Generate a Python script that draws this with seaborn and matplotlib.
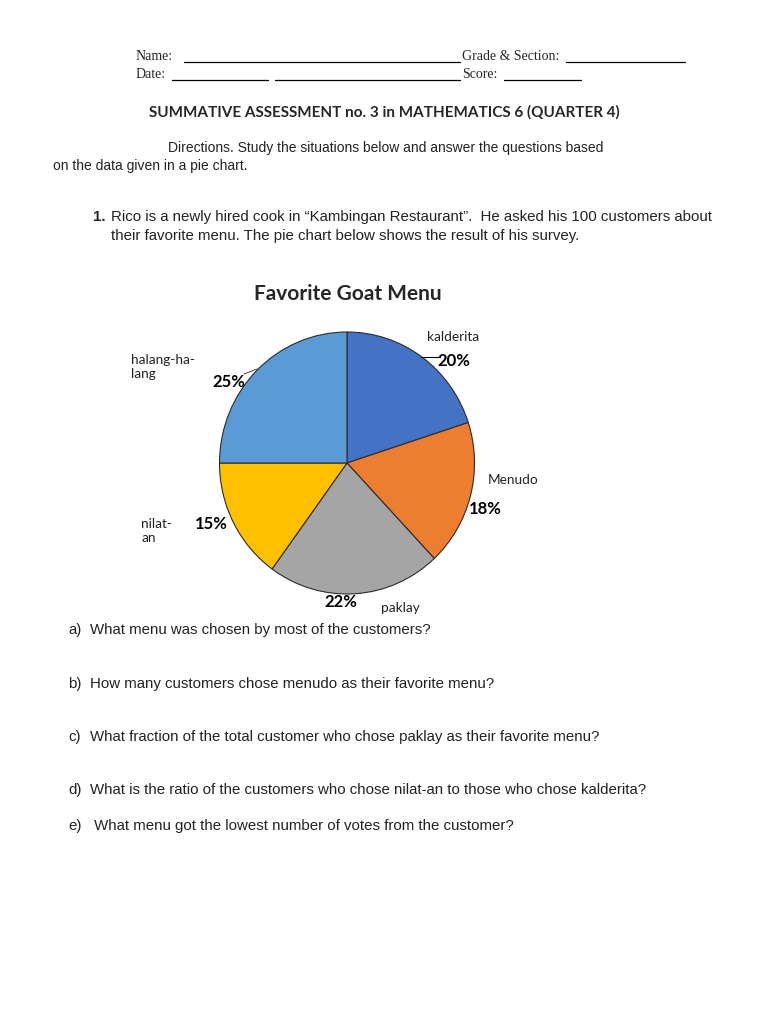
import matplotlib
matplotlib.use("Agg")
import matplotlib.pyplot as plt
from matplotlib.lines import Line2D
import seaborn as sns

# pie data
menus = ["kalderita", "Menudo", "paklay", "nilat-an", "halang-ha-lang"]
percents = [20, 18, 22, 15, 25]
colors = ["#4472C4", "#ED7D31", "#A5A5A5", "#FFC000", "#5B9BD5"]

questions = [
    ("a)", "What menu was chosen by most of the customers?"),
    ("b)", "How many customers chose menudo as their favorite menu?"),
    ("c)", "What fraction of the total customer who chose paklay as their favorite menu?"),
    ("d)", "What is the ratio of the customers who chose nilat-an to those who chose kalderita?"),
    ("e)", " What menu got the lowest number of votes from the customer?"),
]

sns.set_theme(style="white")
plt.rcParams['font.family'] = ['Liberation Sans', 'DejaVu Sans']

W, H = 768, 1024
fig = plt.figure(figsize=(W / 100, H / 100), dpi=100)
fig.patch.set_facecolor("white")

def put(x, y, s, **kw):
    kw.setdefault("va", "center")
    kw.setdefault("ha", "left")
    fig.text(x / W, 1 - y / H, s, **kw)

def hline(x0, x1, y, lw=0.9):
    fig.add_artist(Line2D([x0 / W, x1 / W], [1 - y / H, 1 - y / H],
                          color="black", lw=lw, transform=fig.transFigure))

# header
serif = ['Liberation Serif', 'DejaVu Serif']
put(136, 56, "Name:", family=serif, fontsize=10)
hline(184, 460, 62)
put(462, 56, "Grade & Section:", family=serif, fontsize=10)
hline(566, 685, 62)
put(136, 74, "Date:", family=serif, fontsize=10)
hline(172, 268, 80)
hline(275, 460, 80)
put(462, 74, "Score:", family=serif, fontsize=10)
hline(504, 581, 80)

put(384, 112, "SUMMATIVE ASSESSMENT no. 3 in MATHEMATICS 6 (QUARTER 4)",
    ha="center", family=['Lato', 'DejaVu Sans'], fontweight="bold", fontsize=11)

body = dict(fontsize=10.85, color="#222222")
put(168, 148, "Directions. Study the situations below and answer the questions based",
    fontsize=10, color="#222222")
put(53, 166, "on the data given in a pie chart.", fontsize=10, color="#222222")

put(93, 217, "1.", fontsize=10.8, fontweight="bold")
put(111, 217, "Rico is a newly hired cook in \u201cKambingan Restaurant\u201d.  He asked his 100 customers about",
    **body)
put(111, 236, "their favorite menu. The pie chart below shows the result of his survey.", **body)

# pie chart (slightly taller than wide, as in the scan)
cx, cy, rx, ry = 347, 463, 127.5, 131
box = 145
ax = fig.add_axes([(cx - box) / W, 1 - (cy + box) / H, 2 * box / W, 2 * box / H])
ax.pie(percents, colors=colors, startangle=90, counterclock=False,
       wedgeprops=dict(edgecolor="#2b2b2b", linewidth=0.8))
ax.set_aspect("auto")
ax.set_xlim(-box / rx, box / rx)
ax.set_ylim(-box / ry, box / ry)
ax.axis("off")

calibri = ['Lato', 'DejaVu Sans']
put(348, 294, "Favorite Goat Menu", ha="center", family=calibri,
    fontweight="bold", fontsize=15)

# data labels (placed like the Excel callouts)
lab = dict(family=calibri, fontsize=9.8, color="#222222")
pct = dict(family=calibri, fontsize=12, fontweight="bold", color="black")
put(427, 337, menus[0], **lab)
put(437, 361, f"{percents[0]}%", **pct)
hline(421, 440, 357, lw=0.8)
put(488, 480, menus[1], **lab)
put(469, 509, f"{percents[1]}%", **pct)
put(381, 608, menus[2], **lab)
put(324, 602, f"{percents[2]}%", **pct)
put(141, 531, "nilat-\nan", linespacing=1.2, **lab)
put(195, 524, f"{percents[3]}%", **pct)
put(131, 367, "halang-ha-\nlang", linespacing=1.2, **lab)
put(212, 382, f"{percents[4]}%", **pct)
fig.add_artist(Line2D([244 / W, 257 / W], [1 - 374 / H, 1 - 369 / H],
                      color="#444444", lw=0.7, transform=fig.transFigure))

# questions
qy = [630, 684, 737, 790, 826]
for (tag, q), y in zip(questions, qy):
    put(68, y, tag, **body)
    put(90, y, q, **body)

fig.savefig("out.png", dpi=100, facecolor="white")
